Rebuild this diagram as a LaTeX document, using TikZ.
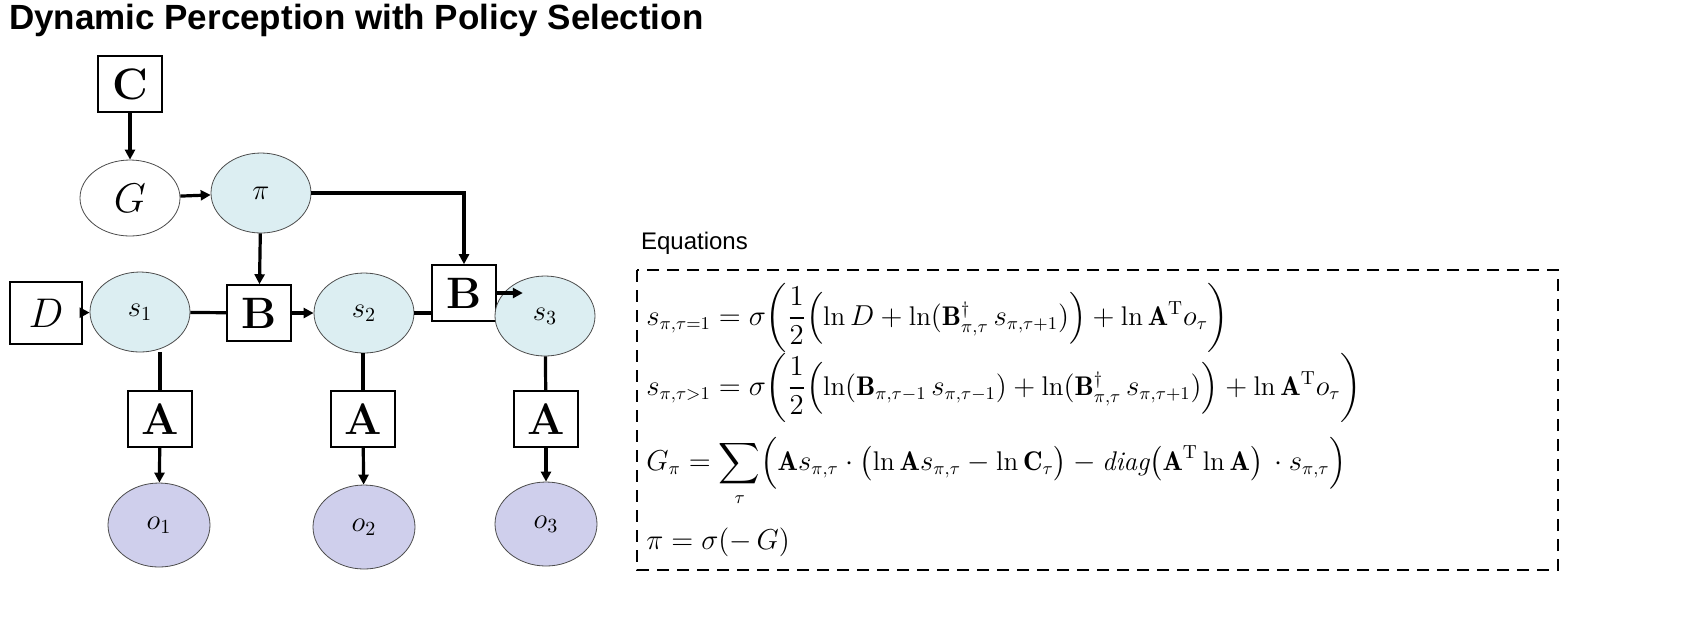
\documentclass[tikz,border=0pt]{standalone}
\usepackage{amsmath}
\usepackage{fontspec}
\newfontfamily\arialf{Liberation Sans}
\usetikzlibrary{arrows.meta,shapes.geometric}
\definecolor{sblue}{HTML}{DCEEF2}
\definecolor{opurp}{HTML}{CFCFEC}
\begin{document}
\begin{tikzpicture}[x=0.5pt,y=-0.5pt,
  bx/.style={draw,thick,fill=white,minimum width=32pt,minimum height=28pt,inner sep=0pt,font=\fontsize{22}{24}\selectfont\bfseries},
  st/.style={draw=black!70,ellipse,fill=sblue,minimum width=50pt,minimum height=40pt,inner sep=0pt,font=\fontsize{14}{16}\selectfont},
  ob/.style={draw=black!70,ellipse,fill=opurp,minimum width=51pt,minimum height=42pt,inner sep=0pt,font=\fontsize{14}{16}\selectfont},
  ar/.style={line width=1.6pt,-{Triangle[length=5pt,width=5pt]}},
  ln/.style={line width=1.6pt}]
\useasboundingbox (0,0) rectangle (1691,623);
\node[anchor=west,font=\arialf\bfseries\fontsize{17.5}{20}\selectfont] (title) at (2,20) {Dynamic Perception with Policy Selection};
\node[bx] (C) at (130,84) {C};
\node[draw=black!70,ellipse,fill=white,minimum width=50pt,minimum height=38pt,inner sep=0pt,font=\fontsize{22}{24}\selectfont] (G) at (130,198) {$G$};
\node[st] (pi) at (261,193) {$\pi$};
\node[bx,minimum width=36pt,minimum height=31pt,font=\fontsize{22}{24}\selectfont] (D) at (46,313) {$D$};
\node[st] (s1) at (140,312) {$s_1$};
\node[bx] (B1) at (259,313) {B};
\node[st] (s2) at (364,313) {$s_2$};
\node[bx] (B2) at (464,293) {B};
\node[st] (s3) at (545,316) {$s_3$};
\node[bx] (A1) at (160,419) {A};
\node[bx] (A2) at (363,419) {A};
\node[bx] (A3) at (546,419) {A};
\node[ob] (o1) at (159,525) {$o_1$};
\node[ob] (o2) at (364,527) {$o_2$};
\node[ob] (o3) at (546,524) {$o_3$};
\draw[ar] (C) -- (G);
\draw[ar] (G) -- (pi);
\draw[ar] (pi) -- (B1);
\draw[ar] (pi.east) -| (B2.north);
\draw[ar] (D) -- (s1);
\draw[ln] (s1) -- (B1);
\draw[ar] (B1) -- (s2);
\draw[ln] (s2.east) -- (s2.east -| B2.west);
\draw[ar] (B2.east) -- ++(26,0);
\draw[ln] (s1.south -| A1) -- (A1);
\draw[ln] (s2.south -| A2) -- (A2);
\draw[ln] (s3) -- (A3);
\draw[ar] (A1) -- (o1);
\draw[ar] (A2) -- (o2);
\draw[ar] (A3) -- (o3);
\node[anchor=west,font=\arialf\fontsize{12}{14}\selectfont] (eqt) at (634,243) {Equations};
\draw[dashed,thick,dash pattern=on 6pt off 4pt] (637,270) rectangle (1558,570);
\begin{scope}[every node/.style={anchor=west,font=\fontsize{13.5}{16}\selectfont,inner sep=0pt}]
\node (e1) at (646,318) {$s_{\pi,\tau=1}=\sigma\biggl(\dfrac12\Bigl(\ln D+\ln(\mathbf{B}^{\dagger}_{\pi,\tau}\,s_{\pi,\tau+1})\Bigr)+\ln\mathbf{A}^{\mathrm{T}}o_\tau\biggr)$};
\node (e2) at (646,388) {$s_{\pi,\tau>1}=\sigma\biggl(\dfrac12\Bigl(\ln(\mathbf{B}_{\pi,\tau-1}\,s_{\pi,\tau-1})+\ln(\mathbf{B}^{\dagger}_{\pi,\tau}\,s_{\pi,\tau+1})\Bigr)+\ln\mathbf{A}^{\mathrm{T}}o_\tau\biggr)$};
\node (e3) at (646,472) {$G_\pi=\displaystyle\sum_{\tau}\Bigl(\mathbf{A}s_{\pi,\tau}\cdot\bigl(\ln\mathbf{A}s_{\pi,\tau}-\ln\mathbf{C}_\tau\bigr)-\mathit{diag}\bigl(\mathbf{A}^{\mathrm{T}}\ln\mathbf{A}\bigr)\,\cdot s_{\pi,\tau}\Bigr)$};
\node (e4) at (646,542) {$\pi=\sigma(-\,G)$};
\end{scope}
\end{tikzpicture}
\end{document}
